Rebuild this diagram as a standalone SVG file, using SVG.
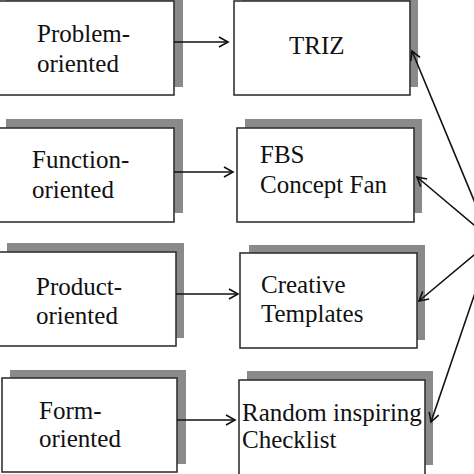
<svg xmlns="http://www.w3.org/2000/svg" width="474" height="474" viewBox="0 0 474 474">
<style>
.sh{fill:#8a8a8a}
.bx{fill:#fff;stroke:#333;stroke-width:1.6}
.t{font-family:"Liberation Serif","Times New Roman",serif;font-size:25px;fill:#111}
.c{stroke:#111;stroke-width:1.6;fill:none}
</style>
<defs>
<marker id="ah" markerWidth="12" markerHeight="12" refX="10" refY="6" orient="auto" markerUnits="userSpaceOnUse">
<path d="M1,1 L10,6 L1,11" fill="none" stroke="#111" stroke-width="1.6"/>
</marker>
</defs>
<rect width="474" height="474" fill="#fff"/>
<g id="problem">
<rect class="sh" x="6" y="-8" width="177" height="95"/>
<rect class="bx" x="-3" y="1" width="177" height="94"/>
<text class="t" x="37" y="42">Problem-</text>
<text class="t" x="37" y="72">oriented</text>
</g>
<g id="function">
<rect class="sh" x="6" y="119" width="177" height="94"/>
<rect class="bx" x="-3" y="128" width="177" height="94"/>
<text class="t" x="32" y="168">Function-</text>
<text class="t" x="32" y="198">oriented</text>
</g>
<g id="product">
<rect class="sh" x="7" y="243" width="177" height="95"/>
<rect class="bx" x="-2" y="252" width="178" height="94"/>
<text class="t" x="36" y="295">Product-</text>
<text class="t" x="36" y="324">oriented</text>
</g>
<g id="form">
<rect class="sh" x="10" y="370" width="176" height="94"/>
<rect class="bx" x="2" y="378" width="175" height="94"/>
<text class="t" x="39" y="419">Form-</text>
<text class="t" x="39" y="447">oriented</text>
</g>
<g id="triz">
<rect class="sh" x="242" y="-7" width="176" height="94"/>
<rect class="bx" x="234" y="1" width="176" height="94"/>
<text class="t" x="289" y="54">TRIZ</text>
</g>
<g id="fbs">
<rect class="sh" x="245" y="119" width="177" height="94"/>
<rect class="bx" x="237" y="128" width="177" height="94"/>
<text class="t" x="260" y="163">FBS</text>
<text class="t" x="260" y="193">Concept Fan</text>
</g>
<g id="creative">
<rect class="sh" x="249" y="245" width="176" height="95"/>
<rect class="bx" x="240" y="253" width="177" height="95"/>
<text class="t" x="261" y="293">Creative</text>
<text class="t" x="261" y="322">Templates</text>
</g>
<g id="random">
<rect class="sh" x="247" y="371" width="186" height="94"/>
<rect class="bx" x="239" y="380" width="186" height="100"/>
<text class="t" x="242" y="421">Random inspiring</text>
<text class="t" x="242" y="448">Checklist</text>
</g>
<g id="connectors">
<line class="c" x1="174" y1="42" x2="228" y2="42" marker-end="url(#ah)"/>
<line class="c" x1="174" y1="172" x2="233" y2="172" marker-end="url(#ah)"/>
<line class="c" x1="176" y1="294" x2="238" y2="294" marker-end="url(#ah)"/>
<line class="c" x1="177" y1="420" x2="235" y2="420" marker-end="url(#ah)"/>
<line class="c" x1="478" y1="210" x2="412" y2="51" marker-end="url(#ah)"/>
<line class="c" x1="480" y1="230" x2="417" y2="177" marker-end="url(#ah)"/>
<line class="c" x1="480" y1="250" x2="419" y2="301" marker-end="url(#ah)"/>
<line class="c" x1="476" y1="290" x2="431" y2="422" marker-end="url(#ah)"/>
</g>
</svg>
